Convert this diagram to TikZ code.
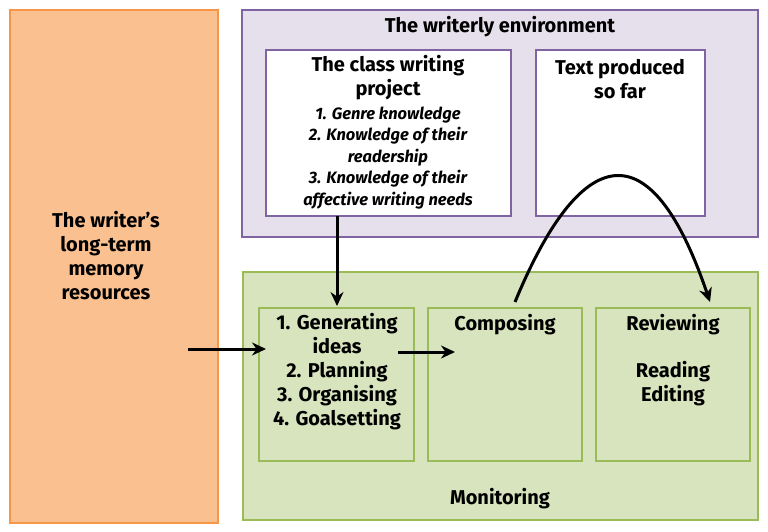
\documentclass[tikz,border=0pt]{standalone}
\usepackage{fontspec}
\setmainfont{Fira Sans}
\usetikzlibrary{arrows.meta}
\definecolor{memfill}{HTML}{FAC090}
\definecolor{memline}{HTML}{F79646}
\definecolor{envfill}{HTML}{E6E0EC}
\definecolor{envline}{HTML}{8064A2}
\definecolor{monfill}{HTML}{D7E4BD}
\definecolor{monline}{HTML}{9BBB59}
\tikzset{
  box/.style={draw, line width=1.8pt, inner sep=0pt},
  lbl/.style={font=\bfseries\fontsize{20}{24}\selectfont, align=center},
  item/.style={font=\bfseries\itshape\fontsize{16.5}{21.5}\selectfont, align=center},
  arr/.style={line width=3pt, -{Stealth[length=14pt,width=13pt]}}
}
\begin{document}
\begin{tikzpicture}[x=1pt,y=-1pt]
	\useasboundingbox (0,0) rectangle (768,532);
	\draw[box, memline, fill=memfill] (10,10) rectangle (218,523);
	\draw[box, envline, fill=envfill] (242,10) rectangle (758,237);
	\draw[box, envline, fill=white] (266,50) rectangle (511,216);
	\draw[box, envline, fill=white] (536,50) rectangle (705,216);
	\draw[box, monline, fill=monfill] (243,272) rectangle (758,520);
	\draw[box, monline] (259,308) rectangle (414,461);
	\draw[box, monline] (428,308) rectangle (582,461);
	\draw[box, monline] (596,308) rectangle (750,461);
	% texts
	\node[lbl] (mem) at (106,256) {The writer’s\\long-term\\memory\\resources};
	\node[lbl] (env) at (500,27) {The writerly environment};
	\node[lbl] (proj) at (388,78) {The class writing\\project};
	\node[item] (know) at (388,158) {1. Genre knowledge\\2. Knowledge of their\\readership\\3. Knowledge of their\\affective writing needs};
	\node[lbl] (text) at (620,79) {Text produced\\so far};
	\node[lbl] (gen) at (337,372) {1. Generating\\ideas\\2. Planning\\3. Organising\\4. Goalsetting};
	\node[lbl] (comp) at (505,325) {Composing};
	\node[lbl] (rev) at (673,325) {Reviewing};
	\node[lbl] (read) at (673,384) {Reading\\Editing};
	\node[lbl] (mon) at (500,499) {Monitoring};
	% connectors
	\coordinate (memout) at (188,349);
	\coordinate (genin) at (266,349);
	\coordinate (genout) at (398,352);
	\coordinate (compin) at (455,352);
	\coordinate (projout) at (337,216);
	\coordinate (genup) at (337,306);
	\coordinate (compup) at (515,302);
	\coordinate (revup) at (710,302);
	\draw[arr] (memout) -- (genin);
	\draw[arr] (genout) -- (compin);
	\draw[arr] (projout) -- (genup);
	\draw[arr] (compup) .. controls (580,145) and (650,125) .. (revup);
\end{tikzpicture}
\end{document}
